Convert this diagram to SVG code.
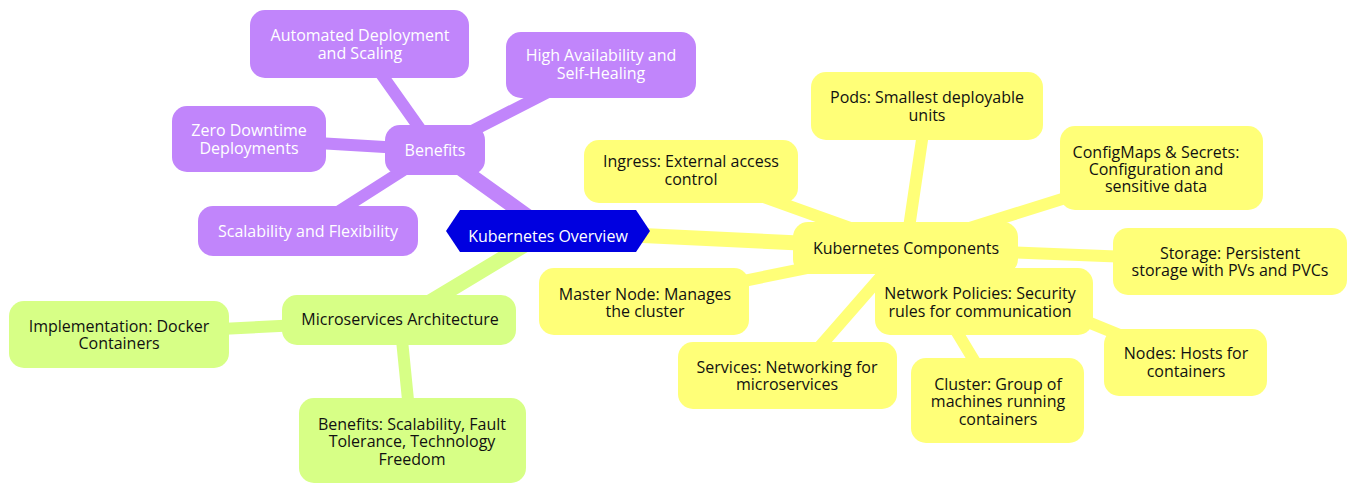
<svg xmlns="http://www.w3.org/2000/svg" width="1358" height="494" viewBox="0 0 1358 494">
<style>
text{font-family:"Open Sans","Noto Sans","Liberation Sans",sans-serif;font-size:16px;text-anchor:middle}
.p rect{fill:#c185fb}
.p text{fill:#ffffff}
.y rect{fill:#ffff78}
.y text{fill:#111111}
.g rect{fill:#d7ff86}
.g text{fill:#111111}
.ep{stroke:#c185fb;stroke-linecap:round;fill:none}
.ey{stroke:#ffff78;stroke-linecap:round;fill:none}
.eg{stroke:#d7ff86;stroke-linecap:round;fill:none}
.d1{stroke-width:15}
.d2{stroke-width:12}
</style>
<rect width="1358" height="494" fill="#ffffff"/>
<g id="connectors">
<line class="ep d1" x1="548" y1="231" x2="435" y2="150"/>
<line class="ep d2" x1="435" y1="150" x2="360" y2="44"/>
<line class="ep d2" x1="435" y1="150" x2="601" y2="65"/>
<line class="ep d2" x1="435" y1="150" x2="249" y2="139"/>
<line class="ep d2" x1="435" y1="150" x2="308" y2="231"/>
<line class="ey d1" x1="548" y1="231" x2="906" y2="248"/>
<line class="ey d2" x1="906" y1="248" x2="691" y2="171"/>
<line class="ey d2" x1="906" y1="248" x2="927" y2="106"/>
<line class="ey d2" x1="906" y1="248" x2="1161" y2="168"/>
<line class="ey d2" x1="906" y1="248" x2="1230" y2="261"/>
<line class="ey d2" x1="906" y1="248" x2="645" y2="301"/>
<line class="ey d2" x1="906" y1="248" x2="984" y2="301"/>
<line class="ey d2" x1="906" y1="248" x2="1186" y2="362"/>
<line class="ey d2" x1="906" y1="248" x2="795" y2="375"/>
<line class="ey d2" x1="906" y1="248" x2="998" y2="400"/>
<line class="eg d1" x1="548" y1="231" x2="400" y2="320"/>
<line class="eg d2" x1="400" y1="320" x2="119" y2="334"/>
<line class="eg d2" x1="400" y1="320" x2="412" y2="440"/>
</g>
<g id="root">
<polygon points="446,231 460,210 636,210 650,231 636,252 460,252" fill="#0000e0"/>
<text x="548" y="242" fill="#ffffff">Kubernetes Overview</text>
</g>
<g id="benefits" class="p">
<rect x="385" y="125" width="100" height="50" rx="15"/>
<text x="435" y="156">Benefits</text>
</g>
<g id="automated" class="p">
<rect x="250" y="10" width="219" height="68" rx="15"/>
<text x="360" y="41">Automated Deployment</text>
<text x="360" y="59">and Scaling</text>
</g>
<g id="high-availability" class="p">
<rect x="506" y="32" width="190" height="66" rx="15"/>
<text x="601" y="61">High Availability and</text>
<text x="601" y="79">Self-Healing</text>
</g>
<g id="zero-downtime" class="p">
<rect x="172" y="106" width="154" height="66" rx="15"/>
<text x="249" y="136">Zero Downtime</text>
<text x="249" y="154">Deployments</text>
</g>
<g id="scalability" class="p">
<rect x="198" y="206" width="220" height="50" rx="15"/>
<text x="308" y="237">Scalability and Flexibility</text>
</g>
<g id="components" class="y">
<rect x="793" y="222" width="225" height="52" rx="15"/>
<text x="906" y="254">Kubernetes Components</text>
</g>
<g id="ingress" class="y">
<rect x="584" y="140" width="214" height="63" rx="15"/>
<text x="691" y="167">Ingress: External access</text>
<text x="691" y="185">control</text>
</g>
<g id="pods" class="y">
<rect x="811" y="72" width="232" height="68" rx="15"/>
<text x="927" y="103">Pods: Smallest deployable</text>
<text x="927" y="121">units</text>
</g>
<g id="configmaps" class="y">
<rect x="1060" y="126" width="203" height="84" rx="15"/>
<text x="1156" y="158">ConfigMaps &amp; Secrets:</text>
<text x="1156" y="175">Configuration and</text>
<text x="1156" y="192">sensitive data</text>
</g>
<g id="storage" class="y">
<rect x="1113" y="228" width="234" height="67" rx="15"/>
<text x="1230" y="259">Storage: Persistent</text>
<text x="1230" y="276">storage with PVs and PVCs</text>
</g>
<g id="master" class="y">
<rect x="539" y="268" width="210" height="67" rx="15"/>
<text x="645" y="300">Master Node: Manages</text>
<text x="645" y="317">the cluster</text>
</g>
<g id="network" class="y">
<rect x="875" y="268" width="218" height="67" rx="15"/>
<text x="980" y="299">Network Policies: Security</text>
<text x="980" y="317">rules for communication</text>
</g>
<g id="nodes" class="y">
<rect x="1104" y="329" width="163" height="67" rx="15"/>
<text x="1186" y="359">Nodes: Hosts for</text>
<text x="1186" y="377">containers</text>
</g>
<g id="services" class="y">
<rect x="678" y="342" width="219" height="67" rx="15"/>
<text x="787" y="373">Services: Networking for</text>
<text x="787" y="390">microservices</text>
</g>
<g id="cluster" class="y">
<rect x="911" y="358" width="173" height="85" rx="15"/>
<text x="998" y="390">Cluster: Group of</text>
<text x="998" y="407">machines running</text>
<text x="998" y="425">containers</text>
</g>
<g id="microservices" class="g">
<rect x="282" y="295" width="234" height="50" rx="15"/>
<text x="400" y="325">Microservices Architecture</text>
</g>
<g id="implementation" class="g">
<rect x="9" y="301" width="220" height="67" rx="15"/>
<text x="119" y="332">Implementation: Docker</text>
<text x="119" y="349">Containers</text>
</g>
<g id="ms-benefits" class="g">
<rect x="299" y="398" width="227" height="85" rx="15"/>
<text x="412" y="430">Benefits: Scalability, Fault</text>
<text x="412" y="447">Tolerance, Technology</text>
<text x="412" y="465">Freedom</text>
</g>
</svg>
